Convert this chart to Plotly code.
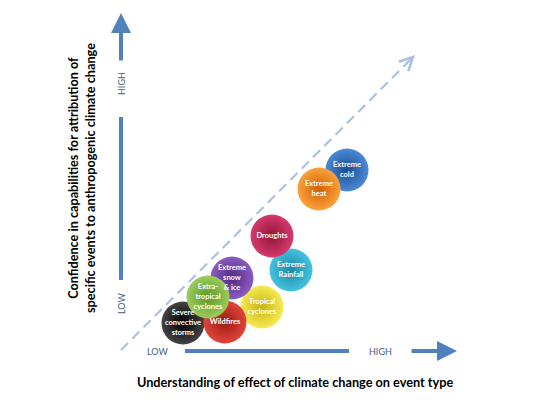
import plotly.graph_objects as go

# event types, drawn back to front
events = [
    "Tropical<br>cyclones",
    "Extreme<br>Rainfall",
    "Droughts",
    "Extreme<br>cold",
    "Extreme<br>heat",
    "Extreme<br>snow<br>& ice",
    "Severe<br>convective<br>storms",
    "Wildfires",
    "Extra-<br>tropical<br>cyclones",
]
# position on the chart (understanding -> x, confidence -> y)
understanding = [262, 291, 272, 347, 319, 232, 183, 225, 208]
confidence = [98, 135, 169, 235, 216, 127, 82, 83, 108]
fill_light = ["#f6ea55", "#45c3df", "#d53a6c", "#4a8ad6", "#fba23a",
              "#8c5cc0", "#444444", "#e0463a", "#9dcc5c"]
fill_dark = ["#c9b40c", "#1a88a8", "#921339", "#1d4b91", "#d0600a",
             "#4f2a84", "#000000", "#9c1a12", "#5b9728"]

AXIS_BLUE = "#4f81bd"
DIAG = "#a9c1e2"
LABEL = "#44607f"
FONT = "Lato"

fig = go.Figure()

fig.add_trace(go.Scatter(
    x=understanding, y=confidence,
    mode="markers+text",
    text=events,
    textposition="middle center",
    textfont=dict(family=FONT, size=7.5, color="white", weight="bold"),
    marker=dict(
        size=43,
        color=fill_light,
        gradient=dict(type="radial", color=fill_dark),
        line=dict(width=0),
        opacity=1,
    ),
    hoverinfo="skip",
    showlegend=False,
))

shapes = [
    # dashed diagonal
    dict(type="line", x0=121, y0=55, x1=412, y1=347,
         line=dict(color=DIAG, width=2.2, dash="10px,6px"), layer="below"),
    # vertical shaft
    dict(type="line", x0=121, y0=125, x1=121, y1=288,
         line=dict(color=AXIS_BLUE, width=4)),
    # horizontal shaft
    dict(type="line", x0=185, y0=54, x1=349, y1=54,
         line=dict(color=AXIS_BLUE, width=4)),
]

annotations = [
    # arrow heads
    dict(x=121, y=392, ax=121, ay=343, xref="x", yref="y", axref="x", ayref="y",
         text="", showarrow=True, arrowhead=2, arrowsize=1, arrowwidth=4,
         arrowcolor=AXIS_BLUE),
    dict(x=457, y=54, ax=410, ay=54, xref="x", yref="y", axref="x", ayref="y",
         text="", showarrow=True, arrowhead=2, arrowsize=1, arrowwidth=4,
         arrowcolor=AXIS_BLUE),
    dict(x=415, y=350, ax=409, ay=344, xref="x", yref="y", axref="x", ayref="y",
         text="", showarrow=True, arrowhead=5, arrowsize=1.3, arrowwidth=2,
         arrowcolor=DIAG),
    # LOW / HIGH labels
    dict(x=157, y=54, text="LOW", showarrow=False,
         font=dict(family=FONT, size=9, color=LABEL)),
    dict(x=380, y=54, text="HIGH", showarrow=False,
         font=dict(family=FONT, size=9, color=LABEL)),
    dict(x=121, y=101, text="LOW", showarrow=False, textangle=-90,
         font=dict(family=FONT, size=9, color=LABEL)),
    dict(x=121, y=321, text="HIGH", showarrow=False, textangle=-90,
         font=dict(family=FONT, size=9, color=LABEL)),
    # axis titles
    dict(x=295, y=23, text="Understanding of effect of climate change on event type",
         showarrow=False, font=dict(family=FONT, size=12.7, color="black", weight="bold")),
    dict(x=81, y=227,
         text="Confidence in capabilities for attribution of<br>"
              "specific events to anthropogenic climate change",
         showarrow=False, textangle=-90,
         font=dict(family=FONT, size=12.7, color="black", weight="bold")),
]

fig.update_layout(
    width=540, height=405,
    margin=dict(l=0, r=0, t=0, b=0),
    paper_bgcolor="white", plot_bgcolor="white",
    # ranges offset to allow for the page's default 8px body margin
    xaxis=dict(range=[8, 548], visible=False, fixedrange=True),
    yaxis=dict(range=[-8, 397], visible=False, fixedrange=True),
    shapes=shapes,
    annotations=annotations,
)

fig.write_html("out.html")
